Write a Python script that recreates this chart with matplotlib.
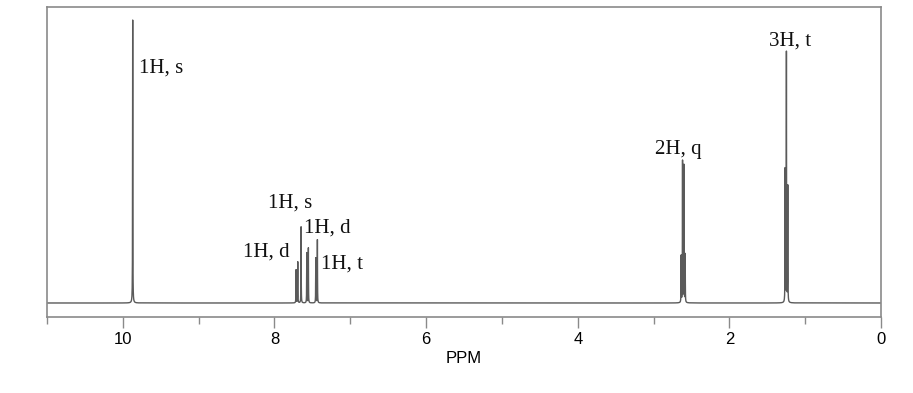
import numpy as np
import matplotlib
matplotlib.use("Agg")
import matplotlib.pyplot as plt

# peak list: shift (ppm) and relative height
peak_ppm = [9.870,
            7.715, 7.693, 7.649, 7.574, 7.553, 7.455, 7.434,
            2.636, 2.618, 2.600, 2.583,
            1.265, 1.248, 1.230]
peak_height = [1.000,
               0.117, 0.145, 0.269, 0.177, 0.194, 0.159, 0.223,
               0.165, 0.500, 0.485, 0.170,
               0.470, 0.883, 0.410]

labels = ["1H, s", "1H, s", "1H, d", "1H, d", "1H, t", "2H, q", "3H, t"]
label_ppm = [9.49, 7.79, 8.11, 7.30, 7.115, 2.675, 1.205]
label_y = [0.830, 0.353, 0.180, 0.265, 0.138, 0.541, 0.926]

# Lorentzian line shape for drawing the peak list
hwhm = 0.0016
x = np.linspace(0, 11, 88001)
y = np.zeros_like(x)
for p, h in zip(peak_ppm, peak_height):
    y += h * hwhm**2 / ((x - p)**2 + hwhm**2)

fig = plt.figure(figsize=(9.13, 3.93), dpi=100)
ax = fig.add_axes([0.0515, 0.1934, 0.9135, 0.7887])
ax.plot(x, y, color="#5a5a5a", lw=1.0)
ax.set_xlim(11, 0)
ax.set_ylim(-0.0495, 1.046)

for s in ax.spines.values():
    s.set_color("#8a8a8a")
    s.set_linewidth(1.2)

ax.set_yticks([])
ax.set_xticks(range(0, 11, 2))
ax.set_xticks(range(1, 12, 2), minor=True)
ax.tick_params(axis="x", which="major", length=8, width=1, color="#8a8a8a",
               labelsize=12, pad=3)
ax.tick_params(axis="x", which="minor", length=5, width=1, color="#8a8a8a")
for t in ax.get_xticklabels():
    t.set_fontfamily("Liberation Sans")
ax.set_xlabel("PPM", fontsize=12, family="Liberation Sans", labelpad=3)

for txt, lx, ly in zip(labels, label_ppm, label_y):
    ax.text(lx, ly, txt, ha="center", va="center", fontsize=15,
            family="Liberation Serif", color="#111111")

fig.savefig("out.png", dpi=100)
